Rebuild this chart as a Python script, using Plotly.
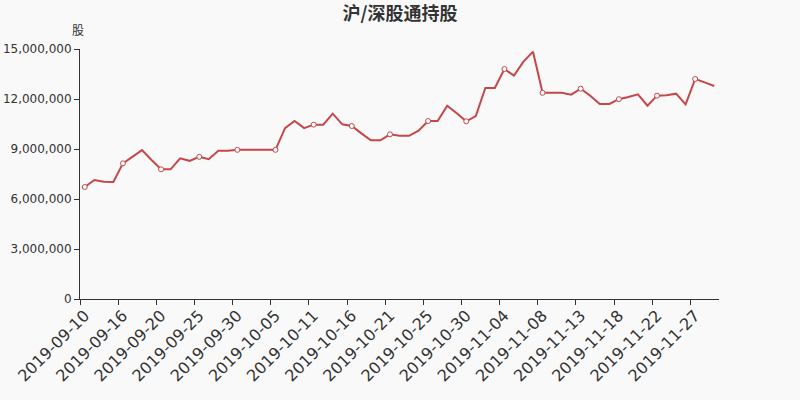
import plotly.graph_objects as go

dates = [
    "2019-09-10", "2019-09-11", "2019-09-12", "2019-09-13", "2019-09-16", "2019-09-17",
    "2019-09-18", "2019-09-19", "2019-09-20", "2019-09-21", "2019-09-23", "2019-09-24",
    "2019-09-25", "2019-09-26", "2019-09-27", "2019-09-28", "2019-09-30", "2019-10-01",
    "2019-10-02", "2019-10-03", "2019-10-05", "2019-10-08", "2019-10-09", "2019-10-10",
    "2019-10-11", "2019-10-12", "2019-10-14", "2019-10-15", "2019-10-16", "2019-10-17",
    "2019-10-18", "2019-10-19", "2019-10-21", "2019-10-22", "2019-10-23", "2019-10-24",
    "2019-10-25", "2019-10-26", "2019-10-28", "2019-10-29", "2019-10-30", "2019-10-31",
    "2019-11-01", "2019-11-02", "2019-11-04", "2019-11-05", "2019-11-06", "2019-11-07",
    "2019-11-08", "2019-11-09", "2019-11-11", "2019-11-12", "2019-11-13", "2019-11-14",
    "2019-11-15", "2019-11-16", "2019-11-18", "2019-11-19", "2019-11-20", "2019-11-21",
    "2019-11-22", "2019-11-23", "2019-11-25", "2019-11-26", "2019-11-27", "2019-11-28",
    "2019-11-29",
]

holdings = [
    6720000, 7140000, 7040000, 7020000, 8140000, 8540000, 8930000, 8340000, 7780000,
    7780000, 8440000, 8290000, 8530000, 8390000, 8890000, 8900000, 8950000, 8950000,
    8950000, 8950000, 8950000, 10250000, 10680000, 10250000, 10460000, 10460000,
    11120000, 10480000, 10380000, 9940000, 9520000, 9520000, 9880000, 9800000, 9790000,
    10100000, 10680000, 10680000, 11600000, 11140000, 10660000, 10980000, 12660000,
    12660000, 13800000, 13400000, 14240000, 14840000, 12370000, 12370000, 12380000,
    12260000, 12620000, 12200000, 11700000, 11700000, 11990000, 12120000, 12280000,
    11600000, 12200000, 12220000, 12320000, 11680000, 13200000, 13000000, 12780000,
]

y_ticks = [0, 3000000, 6000000, 9000000, 12000000, 15000000]

line_color = "#c4474a"
font_family = "DejaVu Sans, Noto Sans CJK SC, sans-serif"

fig = go.Figure()
fig.add_trace(go.Scatter(
    x=dates, y=holdings, mode="lines",
    line=dict(color=line_color, width=2),
    hoverinfo="x+y", showlegend=False,
))
fig.add_trace(go.Scatter(
    x=dates[::4], y=holdings[::4], mode="markers",
    marker=dict(color="#ffffff", size=5, line=dict(color=line_color, width=1)),
    hoverinfo="skip", showlegend=False,
))

fig.update_layout(
    width=800, height=400,
    margin=dict(l=80, r=81, t=49, b=101),
    paper_bgcolor="#f9f9f9", plot_bgcolor="#f9f9f9",
    font=dict(family=font_family, color="#333333", size=12),
    title=dict(text="<b>沪/深股通持股</b>", x=0.5, xanchor="center",
               y=1 - 14 / 400, yanchor="middle",
               font=dict(size=18, color="#333333", family="Noto Sans CJK SC, sans-serif")),
    xaxis=dict(
        type="category", categoryorder="array", categoryarray=dates,
        range=[-0.5, len(dates) - 0.5], automargin=False,
        tickmode="linear", tick0=0, dtick=4,
        tickson="boundaries", tickangle=-45,
        ticks="outside", ticklen=5, tickcolor="#333333",
        showline=True, linecolor="#333333", linewidth=1,
        showgrid=False, zeroline=False,
        tickfont=dict(size=16, color="#333333"),
    ),
    yaxis=dict(
        range=[0, 15000000], tickvals=y_ticks, tickformat=",d", automargin=False,
        ticks="outside", ticklen=5, tickcolor="#333333",
        showline=True, linecolor="#333333", linewidth=1,
        showgrid=False, zeroline=False,
        tickfont=dict(size=12, color="#333333"),
    ),
    annotations=[dict(
        text="股", xref="paper", yref="paper", x=0, y=1 + 19.5 / 250, xshift=-2,
        xanchor="center", yanchor="middle", showarrow=False,
        font=dict(size=12, color="#333333", family="Noto Sans CJK SC, sans-serif"),
    )],
)

fig.write_html(
    "out.html",
    config={"displayModeBar": False},
    post_script="document.body.style.margin='0';document.body.style.background='#f9f9f9';",
)
